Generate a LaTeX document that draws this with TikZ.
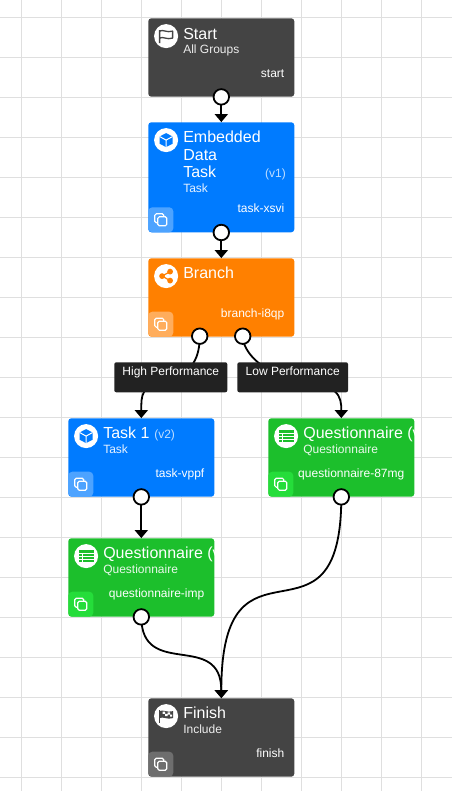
\documentclass[tikz,border=0pt]{standalone}
\usepackage{fontspec}
\setmainfont{Liberation Sans}
\usepackage{xcolor}
\usepackage{tikz}
\usetikzlibrary{arrows.meta,positioning,backgrounds,calc}
\definecolor{darkbox}{HTML}{444444}
\definecolor{bluebox}{HTML}{007BFF}
\definecolor{orangebox}{HTML}{FF8000}
\definecolor{greenbox}{HTML}{1CBF2C}
\definecolor{darkcopy}{HTML}{6E6E6E}
\definecolor{bluecopy}{HTML}{4DA3FF}
\definecolor{orangecopy}{HTML}{FFAD5C}
\definecolor{greencopy}{HTML}{25DD3A}
\definecolor{tagfill}{HTML}{222222}
\definecolor{gridline}{HTML}{DFDFDF}
\tikzset{
    pics/flagicon/.style={code={
        \draw[#1, line width=1.3pt, line join=round, fill=white]
            (-6.5,-6) -- (-6.5,7) (-6.5,-5) .. controls (-3,-7) and (1,-3) .. (6.5,-5)
            -- (6.5,2) .. controls (1,4) and (-3,0) .. (-6.5,2);
    }},
    pics/checkicon/.style={code={
        \fill[#1] (-6.5,-5) .. controls (-3,-7) and (1,-3) .. (7,-5)
            -- (7,2) .. controls (1,4) and (-3,0) .. (-6.5,2) -- cycle;
        \draw[#1, line width=1.3pt] (-6.5,-6) -- (-6.5,7);
        \fill[white] (-3.5,-4.6) rectangle (-1,-2.2) (1.5,-3.8) rectangle (4,-1.6)
            (-1,-2.2) rectangle (1.5,0) (4,-1.6) rectangle (6,0.6);
    }},
    pics/cubeicon/.style={code={
        \fill[#1] (0,-7) -- (6.5,-3.6) -- (6.5,3.6) -- (0,7) -- (-6.5,3.6) -- (-6.5,-3.6) -- cycle;
        \draw[white, line width=1pt, line join=round] (-6.5,-3.6) -- (0,0) -- (6.5,-3.6) (0,0) -- (0,7);
    }},
    pics/shareicon/.style={code={
        \draw[#1, line width=1.2pt] (4,-4.5) -- (-4,0) -- (4,4.5);
        \fill[#1] (4,-4.5) circle (2.9pt) (-4,0) circle (2.9pt) (4,4.5) circle (2.9pt);
    }},
    pics/tableicon/.style={code={
        \fill[#1] (-7.5,-6) rectangle (7.5,6);
        \draw[white, line width=0.7pt] (-7.5,-2.5) -- (7.5,-2.5) (-7.5,0.5) -- (7.5,0.5)
            (-7.5,3.5) -- (7.5,3.5) (-3.5,-2.5) -- (-3.5,6);
    }},
    pics/copyicon/.style={code={
        \draw[white, line width=1.2pt, rounded corners=1.5pt] (-6,-6) rectangle (3,3);
        \draw[white, line width=1.2pt, rounded corners=1.5pt, fill=#1] (-3,-3) rectangle (6,6);
    }}
}

\begin{document}
\begin{tikzpicture}[
    x=1pt, y=-1pt,
    box/.style={rectangle, rounded corners=3pt, fill=#1, minimum width=146pt,
                minimum height=78.4pt, inner sep=0pt},
    iconbg/.style={circle, fill=white, minimum size=24pt, inner sep=0pt},
    copybg/.style={rectangle, rounded corners=4pt, fill=#1,
                   minimum size=25pt, inner sep=0pt},
    boxtitle/.style={anchor=base west, text=white, inner sep=0pt, align=left,
                     font=\fontsize{16}{17.7}\selectfont},
    boxsub/.style={anchor=base west, text=white, text opacity=0.9, inner sep=0pt,
                   font=\fontsize{12}{14}\selectfont},
    boxver/.style={inner sep=0pt, text=white, text opacity=0.75,
                   font=\fontsize{12}{14}\selectfont},
    boxid/.style={anchor=base east, text=white, inner sep=0pt,
                  font=\fontsize{12}{14}\selectfont},
    tag/.style={rectangle, rounded corners=2pt, fill=tagfill, text=white,
                minimum height=30pt, inner sep=0pt, font=\fontsize{12}{14}\selectfont},
    port/.style={circle, draw=black, line width=1.8pt, fill=white, minimum size=15.5pt, inner sep=0pt},
    arrow/.style={-{Triangle[width=13pt,length=8pt]}, line width=1.8pt, draw=black}
]
\useasboundingbox (0,0) rectangle (452,791);

% Steps
\node[box=darkbox] (start) at (221.3,57.5) {};
\node[box=bluebox, minimum height=110pt] (embed) at (221.3,177.3) {};
\node[box=orangebox] (branch) at (221.3,297.5) {};
\node[box=bluebox] (task) at (141.3,457.5) {};
\node[box=greenbox] (questB) at (341.3,457.5) {};
\node[box=greenbox] (questA) at (141.3,577.5) {};
\node[box=darkbox] (finish) at (221.3,737.5) {};

% Branch labels
\node[tag, minimum width=113pt] (high) at (170.8,377.3) {};
\node[tag, minimum width=110.7pt] (low) at (292.7,377.3) {};
\node[tag, fill=none, minimum height=0pt, anchor=base] (hightext) at (170.8,375) {High Performance};
\node[tag, fill=none, minimum height=0pt, anchor=base] (lowtext) at (292.7,375) {Low Performance};

% Round icons
\foreach \nm in {start, embed, branch, task, questB, questA, finish}
    \node[iconbg] (\nm icon) at ($(\nm.north west)+(18,18)$) {};
\pic at (starticon) {flagicon=darkbox};
\pic at (embedicon) {cubeicon=bluebox};
\pic at (branchicon) {shareicon=orangebox};
\pic at (taskicon) {cubeicon=bluebox};
\pic at (questBicon) {tableicon=greenbox};
\pic at (questAicon) {tableicon=greenbox};
\pic at (finishicon) {checkicon=darkbox};

% Copy buttons
\foreach \nm/\col in {embed/bluecopy, branch/orangecopy, task/bluecopy,
                      questB/greencopy, questA/greencopy, finish/darkcopy} {
    \node[copybg=\col, anchor=south west] (\nm copy) at (\nm.south west) {};
    \pic at (\nm copy) {copyicon=\col};
}

% Titles
\node[boxtitle] (starttitle) at ($(start.north west)+(35,21)$) {Start};
\node[boxtitle] (embedtitle) at ($(embed.north west)+(35,55.7)$) {Embedded\\Data\\Task};
\node[boxtitle] (branchtitle) at ($(branch.north west)+(35,20)$) {Branch};
\node[boxtitle] (tasktitle) at ($(task.north west)+(35,20)$) {Task 1};
\node[boxtitle] (questBtitle) at ($(questB.north west)+(35,20)$) {Questionnaire (v};
\node[boxtitle] (questAtitle) at ($(questA.north west)+(35,20)$) {Questionnaire (v};
\node[boxtitle] (finishtitle) at ($(finish.north west)+(35,20)$) {Finish};

% Versions
\node[boxver, anchor=base east] (embedver) at ($(embed.north east)+(-8.5,55.7)$) {(v1)};
\node[boxver, anchor=base west] (taskver) at ($(task.north west)+(86,20)$) {(v2)};

% Sub titles
\node[boxsub] (startsub) at ($(start.north west)+(35,35)$) {All Groups};
\node[boxsub] (embedsub) at ($(embed.north west)+(35,70.7)$) {Task};
\node[boxsub] (tasksub) at ($(task.north west)+(35,35)$) {Task};
\node[boxsub] (questBsub) at ($(questB.north west)+(35,35)$) {Questionnaire};
\node[boxsub] (questAsub) at ($(questA.north west)+(35,35)$) {Questionnaire};
\node[boxsub] (finishsub) at ($(finish.north west)+(35,35)$) {Include};

% Ids
\foreach \nm/\idtext in {start/start, embed/task-xsvi, branch/branch-i8qp, task/task-vppf,
                         questB/questionnaire-87mg, questA/questionnaire-imp, finish/finish}
    \node[boxid] (\nm id) at ($(\nm.south east)+(-10,-19.5)$) {\idtext};

% Ports
\node[port] (startout) at (start.south) {};
\node[port] (embedout) at (embed.south) {};
\node[port] (highout) at ($(branch.south)+(-21.6,-0.7)$) {};
\node[port] (lowout) at ($(branch.south)+(21.4,-0.7)$) {};
\node[port] (taskout) at (task.south) {};
\node[port] (questBout) at (questB.south) {};
\node[port] (questAout) at (questA.south) {};

\begin{scope}[on background layer]
% Grid
\foreach \i in {0,...,10}
    \draw[gridline, line width=1.5pt] (21.5+40*\i,0) -- (21.5+40*\i,791);
\foreach \i in {0,...,19}
    \draw[gridline, line width=1.5pt] (0,17.5+40*\i) -- (452,17.5+40*\i);

% Connectors
\draw[arrow] (startout.center) -- (embed.north);
\draw[arrow] (embedout.center) -- (branch.north);
\draw[arrow] (highout.center) .. controls +(0,14) and +(26,-5) .. (high.center)
    .. controls +(-31,7) and +(0,-22) .. (task.north);
\draw[arrow] (lowout.center) .. controls +(0,14) and +(-32.7,-5) .. (low.center)
    .. controls +(47,7) and +(0,-22) .. (questB.north);
\draw[arrow] (taskout.center) -- (questA.north);
\draw[arrow] (questAout.center) .. controls (141.5,680) and (221.3,630) .. (finish.north);
\draw[arrow] (questBout.center) .. controls (341.3,665) and (221.3,516) .. (finish.north);
\end{scope}
\end{tikzpicture}
\end{document}
